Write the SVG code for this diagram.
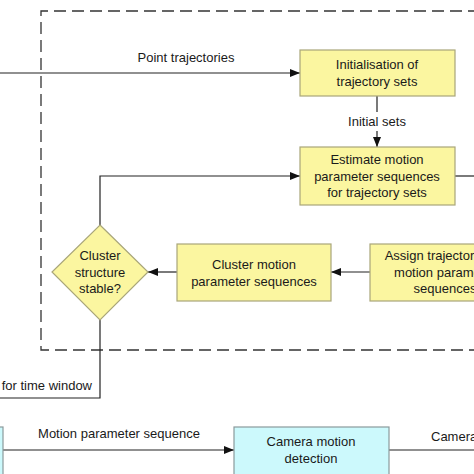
<svg xmlns="http://www.w3.org/2000/svg" width="474" height="474" viewBox="0 0 474 474">
<style>
.box{fill:#fbf6a0;stroke:#a9a67a;stroke-width:1.2}
.cyan{fill:#ccf9fc;stroke:#8a9a9c;stroke-width:1.2}
.t{font-family:"Liberation Sans",Arial,sans-serif;font-size:13px;fill:#1a1a1a;text-anchor:middle}
.ln{fill:none;stroke:#222;stroke-width:1.2}
.dash{fill:none;stroke:#333;stroke-width:1.3;stroke-dasharray:12 6}
</style>
<defs>
<marker id="ah" viewBox="0 0 10 8" refX="10" refY="4" markerWidth="10" markerHeight="8" markerUnits="userSpaceOnUse" orient="auto">
<path d="M0,0 L10,4 L0,8 Z" fill="#111"/>
</marker>
</defs>
<rect width="474" height="474" fill="#fff"/>
<path class="dash" d="M480,11 H41 V350 H480"/>
<g id="connectors">
<path class="ln" d="M0,73 H300" marker-end="url(#ah)"/>
<path class="ln" d="M377,96 V112 M377,131 V147" marker-end="url(#ah)"/>
<path class="ln" d="M100,225 V176 H300" marker-end="url(#ah)"/>
<path class="ln" d="M455,176 H474"/>
<path class="ln" d="M370,272 H331" marker-end="url(#ah)"/>
<path class="ln" d="M177,272 H148" marker-end="url(#ah)"/>
<path class="ln" d="M100,320 V398 H0"/>
<path class="ln" d="M3,450 H234" marker-end="url(#ah)"/>
<path class="ln" d="M389,450 H474"/>
<text class="t" x="186" y="62">Point trajectories</text>
<text class="t" x="377" y="126">Initial sets</text>
<text class="t" x="92" y="390" style="text-anchor:end">for time window</text>
<text class="t" x="119" y="438">Motion parameter sequence</text>
<text class="t" x="431" y="441" style="text-anchor:start">Camera motion parameters</text>
</g>
<g id="init">
<rect class="box" x="300" y="50" width="155" height="46"/>
<text class="t" x="377" y="69">Initialisation of</text>
<text class="t" x="377" y="86">trajectory sets</text>
</g>
<g id="estimate">
<rect class="box" x="300" y="147" width="155" height="58"/>
<text class="t" x="377" y="164">Estimate motion</text>
<text class="t" x="377" y="180.5">parameter sequences</text>
<text class="t" x="377" y="197">for trajectory sets</text>
</g>
<g id="decision">
<path class="box" d="M100,225 L148,272 L100,320 L52,272 Z"/>
<text class="t" x="100" y="260">Cluster</text>
<text class="t" x="100" y="276.5">structure</text>
<text class="t" x="100" y="293">stable?</text>
</g>
<g id="cluster">
<rect class="box" x="177" y="244" width="154" height="57"/>
<text class="t" x="254" y="269">Cluster motion</text>
<text class="t" x="254" y="285.5">parameter sequences</text>
</g>
<g id="assign">
<rect class="box" x="370" y="244" width="150" height="57"/>
<text class="t" x="445" y="260">Assign trajectories to</text>
<text class="t" x="445" y="276.5">motion parameter</text>
<text class="t" x="445" y="293">sequences</text>
</g>
<g id="leftbox">
<rect class="cyan" x="-100" y="427" width="103" height="60"/>
</g>
<g id="camera">
<rect class="cyan" x="234" y="427" width="155" height="60"/>
<text class="t" x="311" y="446">Camera motion</text>
<text class="t" x="311" y="462.5">detection</text>
</g>
</svg>
